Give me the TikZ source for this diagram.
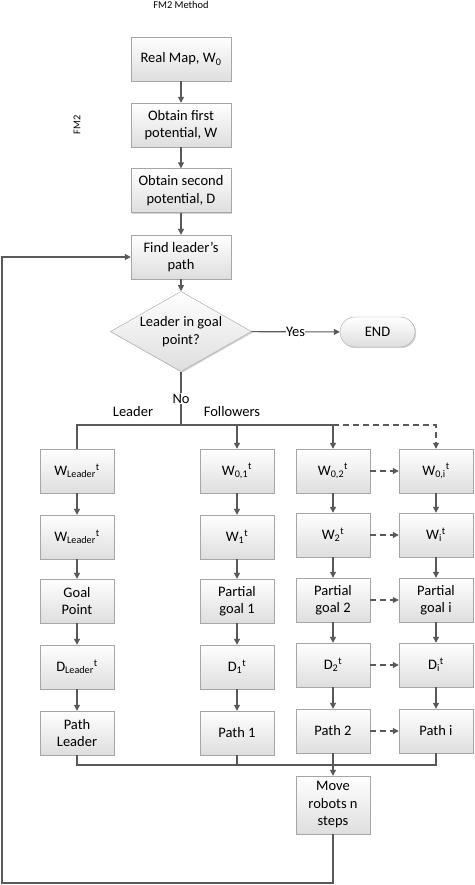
\documentclass[tikz,border=0pt]{standalone}
\usepackage{fontspec}
\setmainfont{Carlito}
\usetikzlibrary{arrows.meta,shapes.geometric,shadows}
\definecolor{linegray}{HTML}{595959}
\definecolor{boxline}{HTML}{A6A6A6}
\tikzset{
  box/.style={rectangle,draw=boxline,top color=white,bottom color=black!13,
    drop shadow={shadow xshift=1.2pt,shadow yshift=-1.2pt,opacity=0.35},
    minimum width=74pt,minimum height=44pt,inner sep=2pt,align=center,
    font=\fontsize{14.5}{17.5}\selectfont},
  widebox/.style={box,minimum width=100pt},
  decision/.style={box,shape=diamond,minimum width=141pt,minimum height=61pt,inner sep=-8pt},
  terminal/.style={box,rounded corners=15pt,minimum width=75pt,minimum height=30pt},
  plain/.style={inner sep=1pt,font=\fontsize{14.5}{17.5}\selectfont},
  small/.style={inner sep=0pt,font=\fontsize{10.4}{12}\selectfont},
  link/.style={draw=linegray,line width=1.1pt},
  flow/.style={link,-{Triangle[length=6pt,width=6pt]}},
  dashflow/.style={flow,dash pattern=on 6pt off 4pt}
}
\begin{document}
\begin{tikzpicture}[x=1pt,y=-1pt]
\useasboundingbox (0,0) rectangle (474,885);

\node[small] (title) at (181,5) {FM2 Method};
\node[small,rotate=90] (fm) at (77,125) {FM2};

\node[widebox] (map) at (181,59) {Real Map, W\textsubscript{0}};
\node[widebox] (first) at (181,125) {Obtain first\\potential, W};
\node[widebox] (second) at (181,190.5) {Obtain second\\potential, D};
\node[widebox] (find) at (181,257) {Find leader’s\\path};
\node[decision] (goal) at (181,331.5) {Leader in goal\\point?};
\node[terminal] (end) at (377.5,332) {END};

\node[plain] (leader) at (133,412) {Leader};
\node[plain] (followers) at (232,412) {Followers};

% leader column
\node[box] (lead1) at (77,471) {W\textsubscript{Leader}\textsuperscript{t}};
\node[box] (lead2) at (77,537) {W\textsubscript{Leader}\textsuperscript{t}};
\node[box] (lead3) at (77,601) {Goal\\Point};
\node[box] (lead4) at (77,667) {D\textsubscript{Leader}\textsuperscript{t}};
\node[box] (lead5) at (77,733) {Path\\Leader};

% followers
\node[box] (one1) at (237,471) {W\textsubscript{0,1}\textsuperscript{t}};
\node[box] (one2) at (237,537) {W\textsubscript{1}\textsuperscript{t}};
\node[box] (one3) at (237,601) {Partial\\goal 1};
\node[box] (one4) at (237,667) {D\textsubscript{1}\textsuperscript{t}};
\node[box] (one5) at (237,733) {Path 1};

\node[box] (two1) at (333,471) {W\textsubscript{0,2}\textsuperscript{t}};
\node[box] (two2) at (333,535) {W\textsubscript{2}\textsuperscript{t}};
\node[box] (two3) at (333,600) {Partial\\goal 2};
\node[box] (two4) at (333,665) {D\textsubscript{2}\textsuperscript{t}};
\node[box] (two5) at (333,731) {Path 2};

\node[box] (many1) at (436,471) {W\textsubscript{0,i}\textsuperscript{t}};
\node[box] (many2) at (436,535) {W\textsubscript{i}\textsuperscript{t}};
\node[box] (many3) at (436,600) {Partial\\goal i};
\node[box] (many4) at (436,665) {D\textsubscript{i}\textsuperscript{t}};
\node[box] (many5) at (436,731) {Path i};

\node[box,minimum height=58pt] (move) at (333,805) {Move\\robots n\\steps};

\coordinate (split) at (181,425);
\coordinate (fork) at (333,425);
\coordinate (join) at (333,765);
\coordinate (back) at (2,883);

\draw[flow] (map) -- (first);
\draw[flow] (first) -- (second);
\draw[flow] (second) -- (find);
\draw[flow] (find) -- (goal);
\draw[flow] (goal) -- node[plain,fill=white,inner sep=0pt] {Yes} (end);
\draw[link] (goal) -- node[plain,fill=white] {No} (split);

\draw[link] (split) -| (lead1.north);
\draw[flow] (split) -| (one1.north);
\draw[flow] (split) -| (two1.north);
\draw[dashflow] (fork) -| (many1.north);

\foreach \col in {lead,one,two,many}{
  \foreach \i/\j in {1/2,2/3,3/4,4/5}{
    \draw[flow] (\col\i.south) -- (\col\j.north);
  }
}

\foreach \i in {1,...,5}{
  \draw[dashflow] (two\i.east) -- (many\i.west);
}

\draw[link] (lead5) |- (join);
\draw[link] (one5) |- (join);
\draw[link] (many5) |- (join);
\draw[flow] (two5) -- (move);

\draw[flow] (move) |- (back) |- (find);
\end{tikzpicture}
\end{document}
